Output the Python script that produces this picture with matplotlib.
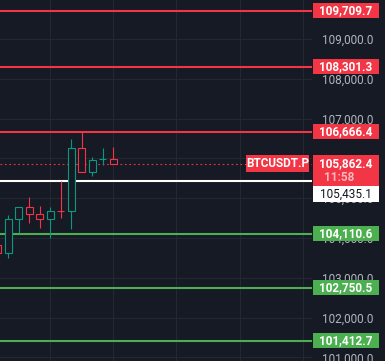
import matplotlib
matplotlib.use("Agg")
import matplotlib.pyplot as plt
from matplotlib.patches import Rectangle
from matplotlib.ticker import FuncFormatter, FixedLocator
import matplotlib.transforms as mtransforms

plt.rcParams['font.family'] = ['Roboto', 'DejaVu Sans']

# candles (index, open, high, low, close)
c_open = [103824, 103623, 104477, 104779, 104603, 104477, 104678, 104678, 106261, 105658, 105985, 105985]
c_high = [103870, 104578, 104790, 105030, 104804, 104779, 105432, 106487, 106666, 106035, 106261, 106286]
c_low = [103600, 103497, 104126, 104377, 104251, 104000, 104503, 104226, 105658, 105558, 105834, 105862]
c_close = [103623, 104477, 104779, 104603, 104477, 104678, 104670, 106261, 105658, 105960, 105990, 105862.4]

red_levels = [109709.7, 108301.3, 106666.4]
green_levels = [104110.6, 102750.5, 101412.7]
white_level = 105435.1
last_price = 105862.4
symbol = "BTCUSDT.P"
countdown = "11:58"
y_ticks = [101000, 102000, 103000, 104000, 105000, 106000, 107000, 108000, 109000, 110000]

BG = '#161a25'
GRID = '#242833'
RED = '#f23645'
GREEN = '#4caf50'
C_GREEN = '#089981'
TXT = '#b2b5be'

fig = plt.figure(figsize=(3.85, 3.61), dpi=100)
fig.patch.set_facecolor(BG)
ax = fig.add_axes([0, 0, 312 / 385, 1])
ax.set_facecolor(BG)
ax.set_xlim(0.2, 29.9)
ax.set_ylim(100910, 109980)
for s in ax.spines.values():
    s.set_visible(False)

ax.xaxis.set_major_locator(FixedLocator([5, 11, 17, 23, 29]))
ax.yaxis.set_major_locator(FixedLocator(y_ticks))
ax.grid(True, color=GRID, lw=0.8)
ax.set_axisbelow(True)
ax.tick_params(axis='x', length=0, labelbottom=False)
ax.yaxis.tick_right()
ax.tick_params(axis='y', length=0, pad=7, labelsize=8.5, labelcolor=TXT)
ax.yaxis.set_major_formatter(FuncFormatter(lambda v, p: f"{v:,.1f}"))

# candles
for i in range(len(c_open)):
    o, h, l, c = c_open[i], c_high[i], c_low[i], c_close[i]
    col = C_GREEN if c >= o else RED
    ax.vlines(i, l, h, color=col, lw=0.8, zorder=3)
    bot, top = min(o, c), max(o, c)
    ax.add_patch(Rectangle((i - 0.33, bot), 0.66, max(top - bot, 8),
                           facecolor=BG, edgecolor=col, lw=0.8, zorder=4))

# horizontal levels
for lv in red_levels:
    ax.axhline(lv, color=RED, lw=1.5, zorder=2)
for lv in green_levels:
    ax.axhline(lv, color=GREEN, lw=1.5, zorder=2)
ax.axhline(white_level, color='white', lw=1.5, zorder=2)
ax.axhline(last_price, color=RED, lw=0.8, ls=(0, (1.5, 2.5)), zorder=2)

# right-side price labels
trans = mtransforms.blended_transform_factory(ax.transAxes, ax.transData)
ppx = (109980 - 100910) / 361.0  # price per pixel
x0 = 313 / 312
bw = 66 / 312
bh = 15 * ppx


def tag(price, text, fc, tc, yc=None, h=bh):
    if yc is None:
        yc = price
    ax.add_patch(Rectangle((x0, yc - h / 2), bw, h, transform=trans,
                           facecolor=fc, edgecolor='none', clip_on=False, zorder=10))
    ax.text(x0 + bw / 2, yc, text, transform=trans, ha='center', va='center',
            color=tc, fontsize=8.5, fontweight='bold', clip_on=False, zorder=11)


for lv in red_levels:
    tag(lv, f"{lv:,.1f}", RED, 'white')
for lv in green_levels:
    tag(lv, f"{lv:,.1f}", GREEN, 'white')

# last price + countdown box
box_h = 31 * ppx
top = last_price + 9 * ppx
ax.add_patch(Rectangle((x0, top - box_h), bw, box_h, transform=trans,
                       facecolor=RED, edgecolor='none', clip_on=False, zorder=10))
ax.text(x0 + bw / 2, last_price + 0.5 * ppx, f"{last_price:,.1f}", transform=trans,
        ha='center', va='center', color='white', fontsize=8.5, fontweight='bold',
        clip_on=False, zorder=11)
ax.text(x0 + 0.035, last_price - 14 * ppx, countdown, transform=trans,
        ha='left', va='center', color='#f9b8be', fontsize=8.5, fontweight='bold',
        clip_on=False, zorder=11)

# white level label pushed below the countdown box
tag(white_level, f"{white_level:,.1f}", 'white', '#131722',
    yc=top - box_h - 8.5 * ppx, h=16 * ppx)
ax.texts[-1].set_fontweight('normal')

# symbol label
ax.add_patch(Rectangle((246 / 312, last_price - 8 * ppx), 63 / 312, 17 * ppx,
                       transform=trans, facecolor=RED, edgecolor='none', zorder=10))
ax.text(277.5 / 312, last_price + 0.5 * ppx, symbol, transform=trans, ha='center',
        va='center', color='white', fontsize=8.5, fontweight='bold', zorder=11)

fig.savefig("out.png", dpi=100, facecolor=BG)
